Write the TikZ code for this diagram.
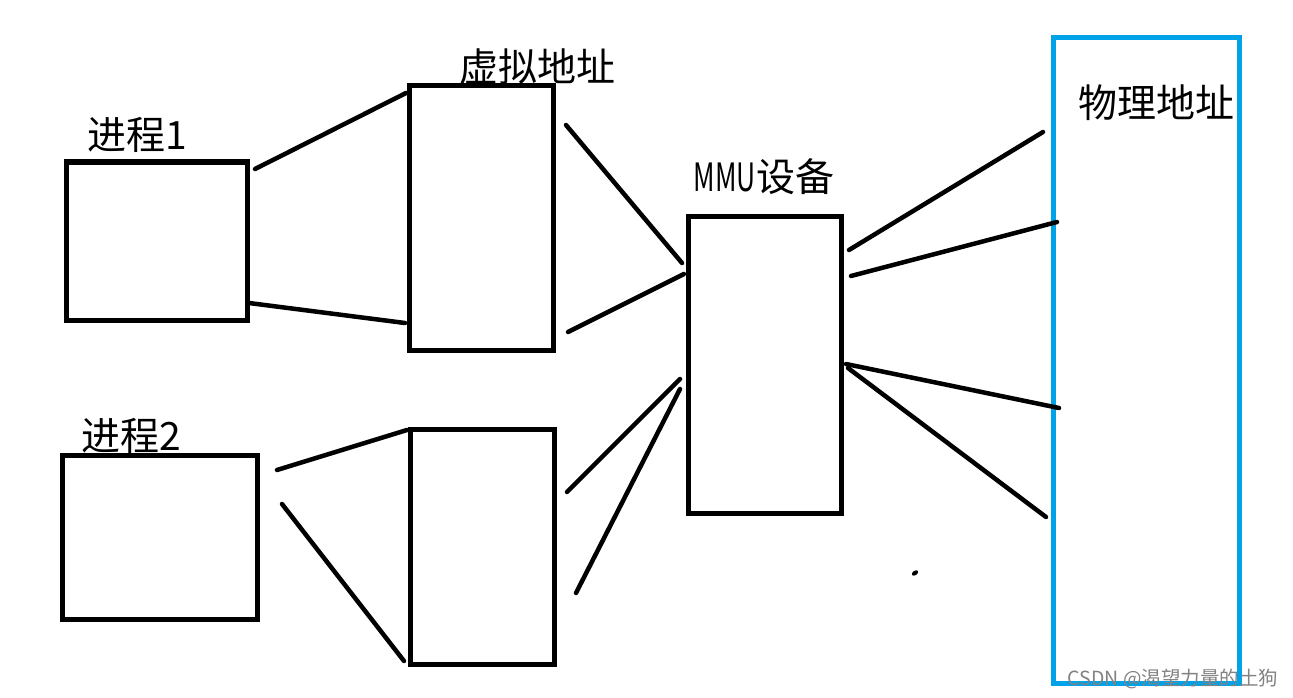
\documentclass[tikz,border=0pt]{standalone}
\usepackage{fontspec}
\usepackage{graphicx}
\newfontfamily\cjk{Noto Sans CJK SC}
\begin{document}
\begin{tikzpicture}[x=1pt,y=-1pt,
  box/.style={draw=black, line width=5pt, inner sep=0pt},
  physbox/.style={draw=physblue, line width=5pt, inner sep=0pt},
  link/.style={line width=4.5pt, line cap=round},
  lbl/.style={font=\fontsize{39}{39}\selectfont\cjk, inner sep=0pt, anchor=center},
  mark lbl/.style={font=\fontsize{19.5}{19.5}\selectfont\cjk, inner sep=0pt, text=wmgray}]
\definecolor{physblue}{RGB}{0,162,232}
\definecolor{wmgray}{RGB}{130,130,130}
\useasboundingbox (0,0) rectangle (1293,698);
\fill[white] (0,0) rectangle (1293,698);

% labels
\node[lbl] (t1) at (137,135) {进程1};
\node[lbl] (tv) at (537,67) {虚拟地址};
\node[lbl] (t2) at (131,436) {进程2};
\node[lbl] (tm) at (764,177) {\scalebox{0.68}[1]{MMU}设备};
\node[lbl] (tp) at (1156,103) {物理地址};

% boxes
\node[box, minimum width=181pt, minimum height=158pt] (p1) at (156.5,241) {};
\node[box, minimum width=144pt, minimum height=264pt] (v1) at (481,218) {};
\node[box, minimum width=195pt, minimum height=164pt] (p2) at (159.5,537) {};
\node[box, minimum width=144pt, minimum height=235pt] (v2) at (482,546.5) {};
\node[box, minimum width=153pt, minimum height=297pt] (mmu) at (764.5,364.5) {};
\node[physbox, minimum width=186pt, minimum height=645pt] (phys) at (1146,360.5) {};

% connector end points
\coordinate (a1) at (255,169);  \coordinate (b1) at (406,93);
\coordinate (a2) at (249,303);  \coordinate (b2) at (405,323);
\coordinate (a3) at (566,125);  \coordinate (b3) at (682,263);
\coordinate (a4) at (568,332);  \coordinate (b4) at (684,274);
\coordinate (a5) at (277,470);  \coordinate (b5) at (407,430);
\coordinate (a6) at (282,504);  \coordinate (b6) at (404,661);
\coordinate (a7) at (567,492);  \coordinate (b7) at (680,379);
\coordinate (a8) at (576,593);  \coordinate (b8) at (680,389);
\coordinate (a9) at (849,250);  \coordinate (b9) at (1043,132);
\coordinate (a10) at (851,276); \coordinate (b10) at (1057,222);
\coordinate (a11) at (846,364); \coordinate (b11) at (1059,408);
\coordinate (a12) at (848,368); \coordinate (b12) at (1046,517);

\draw[link] (a1) -- (b1);
\draw[link] (a2) -- (b2);
\draw[link] (a3) -- (b3);
\draw[link] (a4) -- (b4);
\draw[link] (a5) -- (b5);
\draw[link] (a6) -- (b6);
\draw[link] (a7) -- (b7);
\draw[link] (a8) -- (b8);
\draw[link] (a9) -- (b9);
\draw[link] (a10) -- (b10);
\draw[link] (a11) -- (b11);
\draw[link] (a12) -- (b12);

% stray dot
\fill[black, rotate around={35:(915,573)}] (915,573) ellipse (3.5pt and 2.2pt);

% watermark
\node[mark lbl] (wm) at (1173,679) {CSDN @渴望力量的土狗};
\end{tikzpicture}
\end{document}
